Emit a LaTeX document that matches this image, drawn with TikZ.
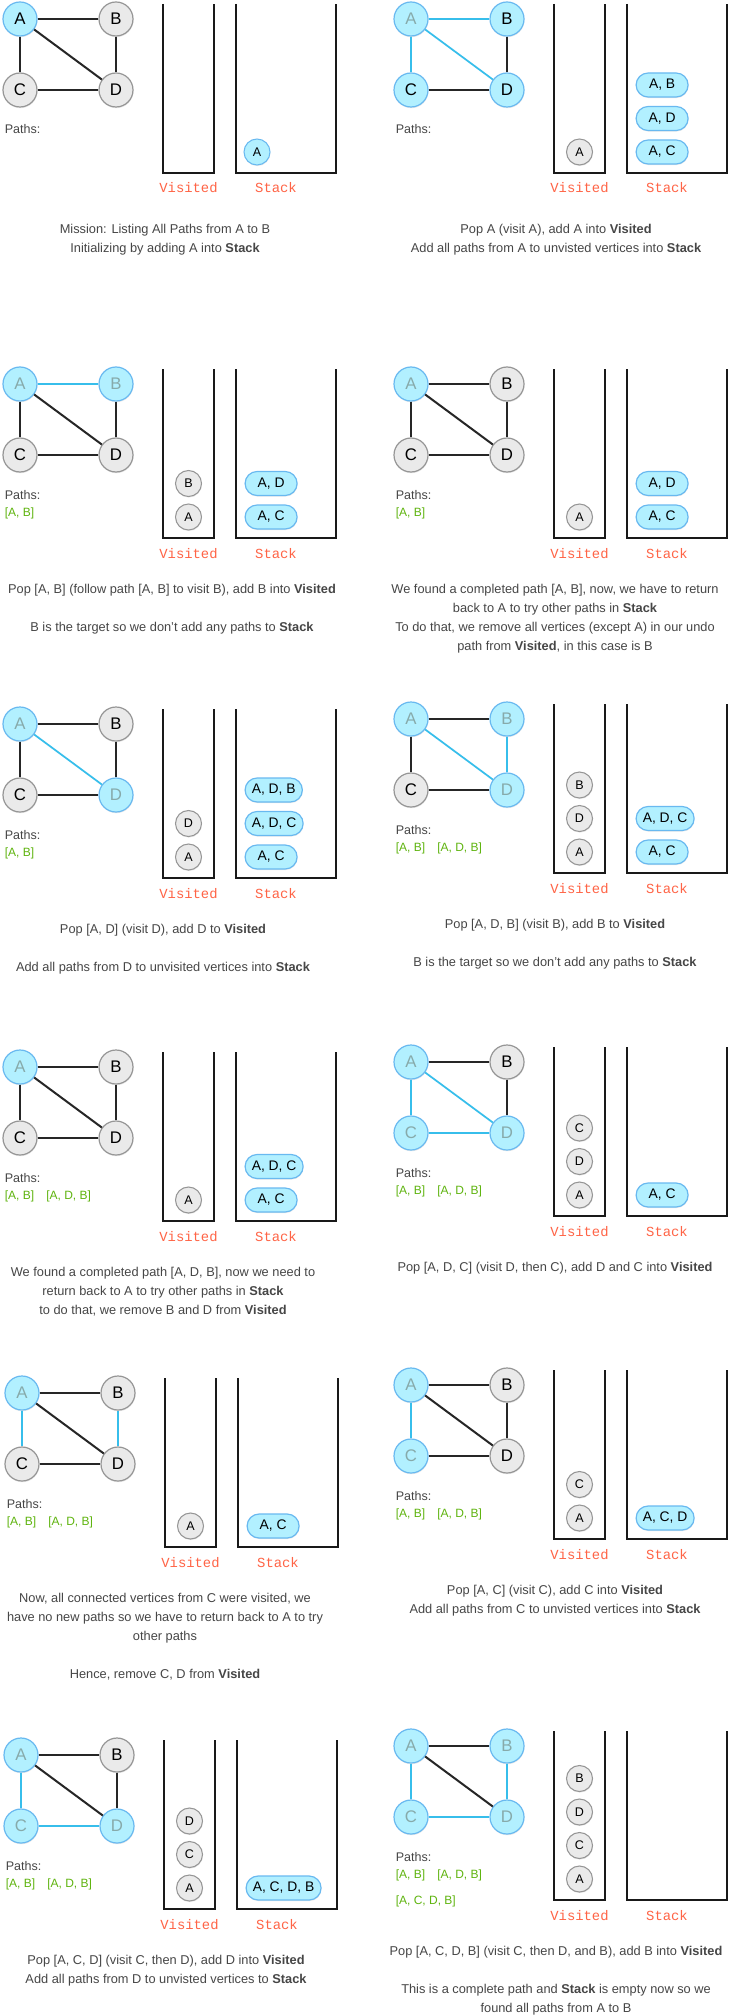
\documentclass[tikz,border=0pt]{standalone}
\usepackage{fontspec}
\setmainfont{Liberation Sans}
\setmonofont{Liberation Mono}
\usepackage{tikz}
\usetikzlibrary{shadows}

\definecolor{cyanfill}{RGB}{178,240,255}
\definecolor{cyanline}{RGB}{105,185,240}
\definecolor{grayfill}{RGB}{234,234,234}
\definecolor{grayline}{RGB}{150,150,150}
\definecolor{hotblue}{RGB}{55,190,235}
\definecolor{seentext}{RGB}{135,170,170}
\definecolor{captext}{RGB}{70,70,70}
\definecolor{labelred}{RGB}{255,100,70}
\definecolor{pathgreen}{RGB}{95,180,15}

\tikzset{
  vtx/.style={circle, draw=grayline, fill=grayfill, line width=0.9pt,
    minimum size=25.5pt, inner sep=0pt, font=\fontsize{12.6}{14}\selectfont,
    drop shadow={opacity=0.18, shadow xshift=0.3pt, shadow yshift=-0.9pt}},
  queued/.style={draw=cyanline, fill=cyanfill},
  seen/.style={queued, text=seentext},
  nA/.style={}, nB/.style={}, nC/.style={}, nD/.style={},
  link/.style={line width=1.5pt, draw=black!85},
  hot/.style={draw=hotblue, line width=1.3pt},
  eAB/.style={}, eAC/.style={}, eAD/.style={}, eBD/.style={}, eCD/.style={},
  vitem/.style={circle, draw=grayline, fill=grayfill, line width=0.8pt,
    minimum size=19.5pt, inner sep=0pt, font=\fontsize{9.4}{11}\selectfont,
    drop shadow={opacity=0.18, shadow xshift=0.3pt, shadow yshift=-0.8pt}},
  pill/.style={rectangle, rounded corners=9pt, draw=cyanline, fill=cyanfill,
    line width=0.9pt, minimum height=18pt, minimum width=39pt, inner xsep=5pt,
    inner ysep=0pt, anchor=west, font=\fontsize{10.4}{12}\selectfont,
    drop shadow={opacity=0.18, shadow xshift=0.3pt, shadow yshift=-0.8pt}},
  jar/.style={line width=1.5pt, draw=black!90},
  jarlabel/.style={font=\ttfamily\fontsize{10.4}{12}\selectfont, text=labelred,
    inner sep=0pt, anchor=base},
  pathhead/.style={font=\fontsize{9.4}{11}\selectfont, text=captext,
    inner sep=0pt, anchor=base west},
  found/.style={font=\fontsize{9}{11}\selectfont, text=pathgreen,
    inner sep=0pt, anchor=base west},
  caption/.style={align=center, font=\fontsize{9.6}{14.25}\selectfont,
    text=captext, inner sep=0pt, anchor=north},
}

% graph, the two jars and the "Paths:" head of one step
\newcommand{\panel}[1]{%
  \node[vtx, nA] (#1A) at (20,0) {A};
  \node[vtx, nB] (#1B) at (116,0) {B};
  \node[vtx, nC] (#1C) at (20,71) {C};
  \node[vtx, nD] (#1D) at (116,71) {D};
  \draw[link, eAB] (#1A) -- (#1B);
  \draw[link, eAC] (#1A) -- (#1C);
  \draw[link, eAD] (#1A) -- (#1D);
  \draw[link, eBD] (#1B) -- (#1D);
  \draw[link, eCD] (#1C) -- (#1D);
  \draw[jar] (162.5,-15) -- (162.5,154) -- (213.5,154) -- (213.5,-15);
  \draw[jar] (235.5,-15) -- (235.5,154) -- (335.5,154) -- (335.5,-15);
  \node[jarlabel] (#1vl) at (188.5,174) {Visited};
  \node[jarlabel] (#1sl) at (276,174) {Stack};
  \node[pathhead] (#1ph) at (4.5,115) {Paths:};
}

\begin{document}
\begin{tikzpicture}[x=0.75pt, y=-0.75pt]
  \fill[white] (0,0) rectangle (728,2015);
  \useasboundingbox (0,0) rectangle (728,2015);

  % step 1
  \begin{scope}[shift={(0,19)}, nA/.style=queued]
    \panel{p1}
    \node[vitem, queued] (p1s1) at (257,133) {A};
    \node[caption] (p1cap) at (165,204.5) {Mission: Listing All Paths from A to B\\
      Initializing by adding A into \textbf{Stack}};
  \end{scope}

  % step 2
  \begin{scope}[shift={(391,19)}, nA/.style=seen, nB/.style=queued,
      nC/.style=queued, nD/.style=queued, eAB/.style=hot, eAC/.style=hot, eAD/.style=hot]
    \panel{p2}
    \node[vitem] (p2v1) at (188.5,133) {A};
    \node[pill] (p2s1) at (244.5,133) {A, C};
    \node[pill] (p2s2) at (244.5,99.5) {A, D};
    \node[pill] (p2s3) at (244.5,66) {A, B};
    \node[caption] (p2cap) at (165,204.5) {Pop A (visit A), add A into \textbf{Visited}\\
      Add all paths from A to unvisted vertices into \textbf{Stack}};
  \end{scope}

  % step 3
  \begin{scope}[shift={(0,384)}, nA/.style=seen, nB/.style=seen, eAB/.style=hot]
    \panel{p3}
    \node[vitem] (p3v1) at (188.5,133) {A};
    \node[vitem] (p3v2) at (188.5,99.5) {B};
    \node[pill] (p3s1) at (244.5,133) {A, C};
    \node[pill] (p3s2) at (244.5,99.5) {A, D};
    \node[found] (p3pa) at (4.5,132) {[A, B]};
    \node[caption] (p3cap) at (172,199.5) {Pop [A, B] (follow path [A, B] to visit B), add B into \textbf{Visited}\\[14.25pt]
      B is the target so we don’t add any paths to \textbf{Stack}};
  \end{scope}

  % step 4
  \begin{scope}[shift={(391,384)}, nA/.style=seen]
    \panel{p4}
    \node[vitem] (p4v1) at (188.5,133) {A};
    \node[pill] (p4s1) at (244.5,133) {A, C};
    \node[pill] (p4s2) at (244.5,99.5) {A, D};
    \node[found] (p4pa) at (4.5,132) {[A, B]};
    \node[caption] (p4cap) at (164,199.5) {We found a completed path [A, B], now, we have to return\\
      back to A to try other paths in \textbf{Stack}\\
      To do that, we remove all vertices (except A) in our undo\\
      path from \textbf{Visited}, in this case is B};
  \end{scope}

  % step 5
  \begin{scope}[shift={(0,724)}, nA/.style=seen, nD/.style=seen, eAD/.style=hot]
    \panel{p5}
    \node[vitem] (p5v1) at (188.5,133) {A};
    \node[vitem] (p5v2) at (188.5,99.5) {D};
    \node[pill] (p5s1) at (244.5,133) {A, C};
    \node[pill] (p5s2) at (244.5,99.5) {A, D, C};
    \node[pill] (p5s3) at (244.5,66) {A, D, B};
    \node[found] (p5pa) at (4.5,132) {[A, B]};
    \node[caption] (p5cap) at (163,199.5) {Pop [A, D] (visit D), add D to \textbf{Visited}\\[14.25pt]
      Add all paths from D to unvisited vertices into \textbf{Stack}};
  \end{scope}

  % step 6
  \begin{scope}[shift={(391,719)}, nA/.style=seen, nB/.style=seen, nD/.style=seen,
      eAD/.style=hot, eBD/.style=hot]
    \panel{p6}
    \node[vitem] (p6v1) at (188.5,133) {A};
    \node[vitem] (p6v2) at (188.5,99.5) {D};
    \node[vitem] (p6v3) at (188.5,66) {B};
    \node[pill] (p6s1) at (244.5,133) {A, C};
    \node[pill] (p6s2) at (244.5,99.5) {A, D, C};
    \node[found] (p6pa) at (4.5,132) {[A, B]};
    \node[found] (p6pb) at (46,132) {[A, D, B]};
    \node[caption] (p6cap) at (164,199.5) {Pop [A, D, B] (visit B), add B to \textbf{Visited}\\[14.25pt]
      B is the target so we don’t add any paths to \textbf{Stack}};
  \end{scope}

  % step 7
  \begin{scope}[shift={(0,1067)}, nA/.style=seen]
    \panel{p7}
    \node[vitem] (p7v1) at (188.5,133) {A};
    \node[pill] (p7s1) at (244.5,133) {A, C};
    \node[pill] (p7s2) at (244.5,99.5) {A, D, C};
    \node[found] (p7pa) at (4.5,132) {[A, B]};
    \node[found] (p7pb) at (46,132) {[A, D, B]};
    \node[caption] (p7cap) at (163,199.5) {We found a completed path [A, D, B], now we need to\\
      return back to A to try other paths in \textbf{Stack}\\
      to do that, we remove B and D from \textbf{Visited}};
  \end{scope}

  % step 8
  \begin{scope}[shift={(391,1062)}, nA/.style=seen, nC/.style=seen, nD/.style=seen,
      eAC/.style=hot, eAD/.style=hot, eCD/.style=hot]
    \panel{p8}
    \node[vitem] (p8v1) at (188.5,133) {A};
    \node[vitem] (p8v2) at (188.5,99.5) {D};
    \node[vitem] (p8v3) at (188.5,66) {C};
    \node[pill] (p8s1) at (244.5,133) {A, C};
    \node[found] (p8pa) at (4.5,132) {[A, B]};
    \node[found] (p8pb) at (46,132) {[A, D, B]};
    \node[caption] (p8cap) at (164,199.5) {Pop [A, D, C] (visit D, then C), add D and C into \textbf{Visited}};
  \end{scope}

  % step 9
  \begin{scope}[shift={(2,1393)}, nA/.style=seen, eAC/.style=hot, eBD/.style=hot]
    \panel{p9}
    \node[vitem] (p9v1) at (188.5,133) {A};
    \node[pill] (p9s1) at (244.5,133) {A, C};
    \node[found] (p9pa) at (4.5,132) {[A, B]};
    \node[found] (p9pb) at (46,132) {[A, D, B]};
    \node[caption] (p9cap) at (163,199.5) {Now, all connected vertices from C were visited, we\\
      have no new paths so we have to return back to A to try\\
      other paths\\[14.25pt]
      Hence, remove C, D from \textbf{Visited}};
  \end{scope}

  % step 10
  \begin{scope}[shift={(391,1385)}, nA/.style=seen, nC/.style=seen, eAC/.style=hot]
    \panel{p10}
    \node[vitem] (p10v1) at (188.5,133) {A};
    \node[vitem] (p10v2) at (188.5,99.5) {C};
    \node[pill] (p10s1) at (244.5,133) {A, C, D};
    \node[found] (p10pa) at (4.5,132) {[A, B]};
    \node[found] (p10pb) at (46,132) {[A, D, B]};
    \node[caption] (p10cap) at (164,199.5) {Pop [A, C] (visit C), add C into \textbf{Visited}\\
      Add all paths from C to unvisted vertices into \textbf{Stack}};
  \end{scope}

  % step 11
  \begin{scope}[shift={(1,1755)}, nA/.style=seen, nC/.style=seen, nD/.style=seen,
      eAC/.style=hot, eCD/.style=hot]
    \panel{p11}
    \node[vitem] (p11v1) at (188.5,133) {A};
    \node[vitem] (p11v2) at (188.5,99.5) {C};
    \node[vitem] (p11v3) at (188.5,66) {D};
    \node[pill] (p11s1) at (244.5,133) {A, C, D, B};
    \node[found] (p11pa) at (4.5,132) {[A, B]};
    \node[found] (p11pb) at (46,132) {[A, D, B]};
    \node[caption] (p11cap) at (165,199.5) {Pop [A, C, D] (visit C, then D), add D into \textbf{Visited}\\
      Add all paths from D to unvisted vertices to \textbf{Stack}};
  \end{scope}

  % step 12
  \begin{scope}[shift={(391,1746)}, nA/.style=seen, nB/.style=seen, nC/.style=seen,
      nD/.style=seen, eAC/.style=hot, eCD/.style=hot, eBD/.style=hot]
    \panel{p12}
    \node[vitem] (p12v1) at (188.5,133) {A};
    \node[vitem] (p12v2) at (188.5,99.5) {C};
    \node[vitem] (p12v3) at (188.5,66) {D};
    \node[vitem] (p12v4) at (188.5,32.5) {B};
    \node[found] (p12pa) at (4.5,132) {[A, B]};
    \node[found] (p12pb) at (46,132) {[A, D, B]};
    \node[found] (p12pc) at (4.5,158) {[A, C, D, B]};
    \node[caption] (p12cap) at (165,199.5) {Pop [A, C, D, B] (visit C, then D, and B), add B into \textbf{Visited}\\[14.25pt]
      This is a complete path and \textbf{Stack} is empty now so we\\
      found all paths from A to B};
  \end{scope}
\end{tikzpicture}
\end{document}
